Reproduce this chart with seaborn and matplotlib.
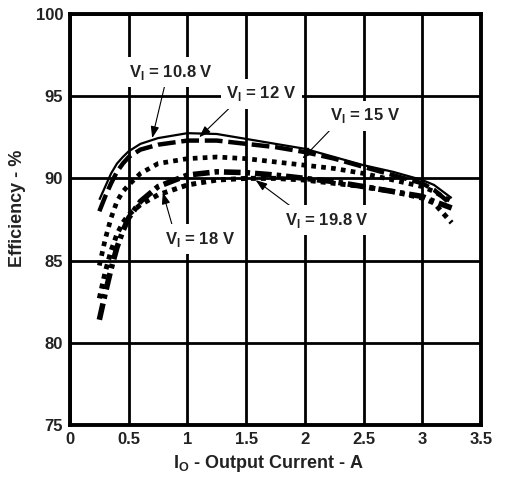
import matplotlib
matplotlib.use("Agg")
import matplotlib.pyplot as plt
import seaborn as sns
import pandas as pd

# ---- data ----
current = [0.25, 0.3, 0.35, 0.4, 0.45, 0.5, 0.6, 0.75, 1.0, 1.25, 1.5, 1.75,
           2.0, 2.25, 2.5, 2.75, 3.0, 3.1, 3.25]
eff_10_8 = [88.7, 89.5, 90.3, 90.9, 91.3, 91.65, 92.1, 92.45, 92.75, 92.7, 92.4, 92.1,
            91.8, 91.3, 90.8, 90.4, 89.9, 89.6, 88.8]
eff_12 = [88.0, 88.9, 89.7, 90.4, 90.9, 91.3, 91.75, 92.05, 92.3, 92.3, 92.1, 91.9,
          91.6, 91.2, 90.7, 90.2, 89.7, 89.3, 88.4]
eff_15 = [84.7, 86.3, 87.6, 88.6, 89.2, 89.6, 90.3, 90.9, 91.2, 91.3, 91.2, 91.0,
          90.8, 90.6, 90.3, 89.9, 89.5, 89.2, 88.6]
eff_18 = [82.7, 84.3, 85.6, 86.6, 87.3, 87.8, 88.4, 89.0, 89.6, 89.9, 90.0, 90.0,
          89.9, 89.7, 89.5, 89.2, 88.8, 88.5, 87.3]
eff_19_8 = [81.4, 83.0, 84.5, 85.8, 86.8, 87.6, 88.6, 89.5, 90.2, 90.4, 90.35, 90.2,
            90.0, 89.8, 89.5, 89.2, 88.9, 88.6, 88.2]

series_names = ["10.8", "12", "15", "18", "19.8"]
series_values = [eff_10_8, eff_12, eff_15, eff_18, eff_19_8]

x_ticks = [0, 0.5, 1, 1.5, 2, 2.5, 3, 3.5]
x_tick_labels = ["0", "0.5", "1", "1.5", "2", "2.5", "3", "3.5"]
y_ticks = [75, 80, 85, 90, 95, 100]
y_tick_labels = ["75", "80", "85", "90", "95", "100"]

# label texts, positions (text centre) and arrow tips in data coordinates
label_texts = ["V$_\\mathbf{I}$ = 10.8 V", "V$_\\mathbf{I}$ = 12 V", "V$_\\mathbf{I}$ = 15 V",
               "V$_\\mathbf{I}$ = 18 V", "V$_\\mathbf{I}$ = 19.8 V"]
label_pos = [(0.86, 96.45), (1.63, 95.15), (2.51, 93.8), (1.11, 86.3), (2.19, 87.45)]
arrow_tips = [(0.70, 92.45), (1.10, 92.5), (1.98, 91.2), (0.79, 89.15), (1.58, 89.9)]
arrow_starts = [(0.81, 95.75), (1.39, 94.5), (2.25, 93.2), (0.88, 86.9), (1.88, 88.3)]

# ---- drawing ----
sns.set_style("white")
plt.rcParams["font.family"] = ["Liberation Sans", "DejaVu Sans"]
plt.rcParams["mathtext.fontset"] = "custom"
plt.rcParams["mathtext.rm"] = "Liberation Sans"
plt.rcParams["mathtext.bf"] = "Liberation Sans:bold"

fig = plt.figure(figsize=(5.05, 4.82), dpi=100)
ax = fig.add_axes([0.1386, 0.1183, 0.8139, 0.8527])

styles = [
    dict(lw=1.6, linestyle="-"),
    dict(lw=3.2, linestyle=(0, (4.0, 1.3))),
    dict(lw=3.4, linestyle=(0, (1.0, 1.1))),
    dict(lw=3.6, linestyle=(0, (1.0, 1.0))),
    dict(lw=4.0, linestyle=(0, (3.0, 0.9, 0.8, 0.9))),
]

df = pd.DataFrame({"current": current})
for name, vals, st in zip(series_names, series_values, styles):
    df[name] = vals
    sns.lineplot(data=df, x="current", y=name, ax=ax, color="black",
                 solid_capstyle="butt", dash_capstyle="butt", zorder=3, **st)

ax.set_xlim(0, 3.5)
ax.set_ylim(75, 100)
ax.set_xticks(x_ticks)
ax.set_xticklabels(x_tick_labels, fontsize=12, fontweight="bold", color="#222222")
ax.set_yticks(y_ticks)
ax.set_yticklabels(y_tick_labels, fontsize=12, fontweight="bold", color="#222222")
ax.tick_params(length=0, pad=5)
ax.grid(True, color="black", lw=2.0)
ax.set_axisbelow(True)
for sp in ax.spines.values():
    sp.set_color("black")
    sp.set_linewidth(2.8)

ax.set_xlabel("I$_\\mathbf{O}$ - Output Current - A", fontsize=13, fontweight="bold",
              color="#222222")
ax.xaxis.set_label_coords(0.483, -0.068)
ax.set_ylabel("Efficiency - %", fontsize=13, fontweight="bold", color="#222222")
ax.yaxis.set_label_coords(-0.106, 0.526)

for txt, pos, tip, start in zip(label_texts, label_pos, arrow_tips, arrow_starts):
    ax.annotate("", xy=tip, xytext=start,
                arrowprops=dict(arrowstyle="-|>,head_length=0.7,head_width=0.25",
                                color="black", lw=0.8, shrinkA=0, shrinkB=0),
                zorder=5)
    ax.text(pos[0], pos[1], txt, ha="center", va="center", fontsize=12,
            fontweight="bold", color="#222222", zorder=6,
            bbox=dict(facecolor="white", edgecolor="none", pad=4))

fig.savefig("out.png", dpi=100, facecolor="white")
